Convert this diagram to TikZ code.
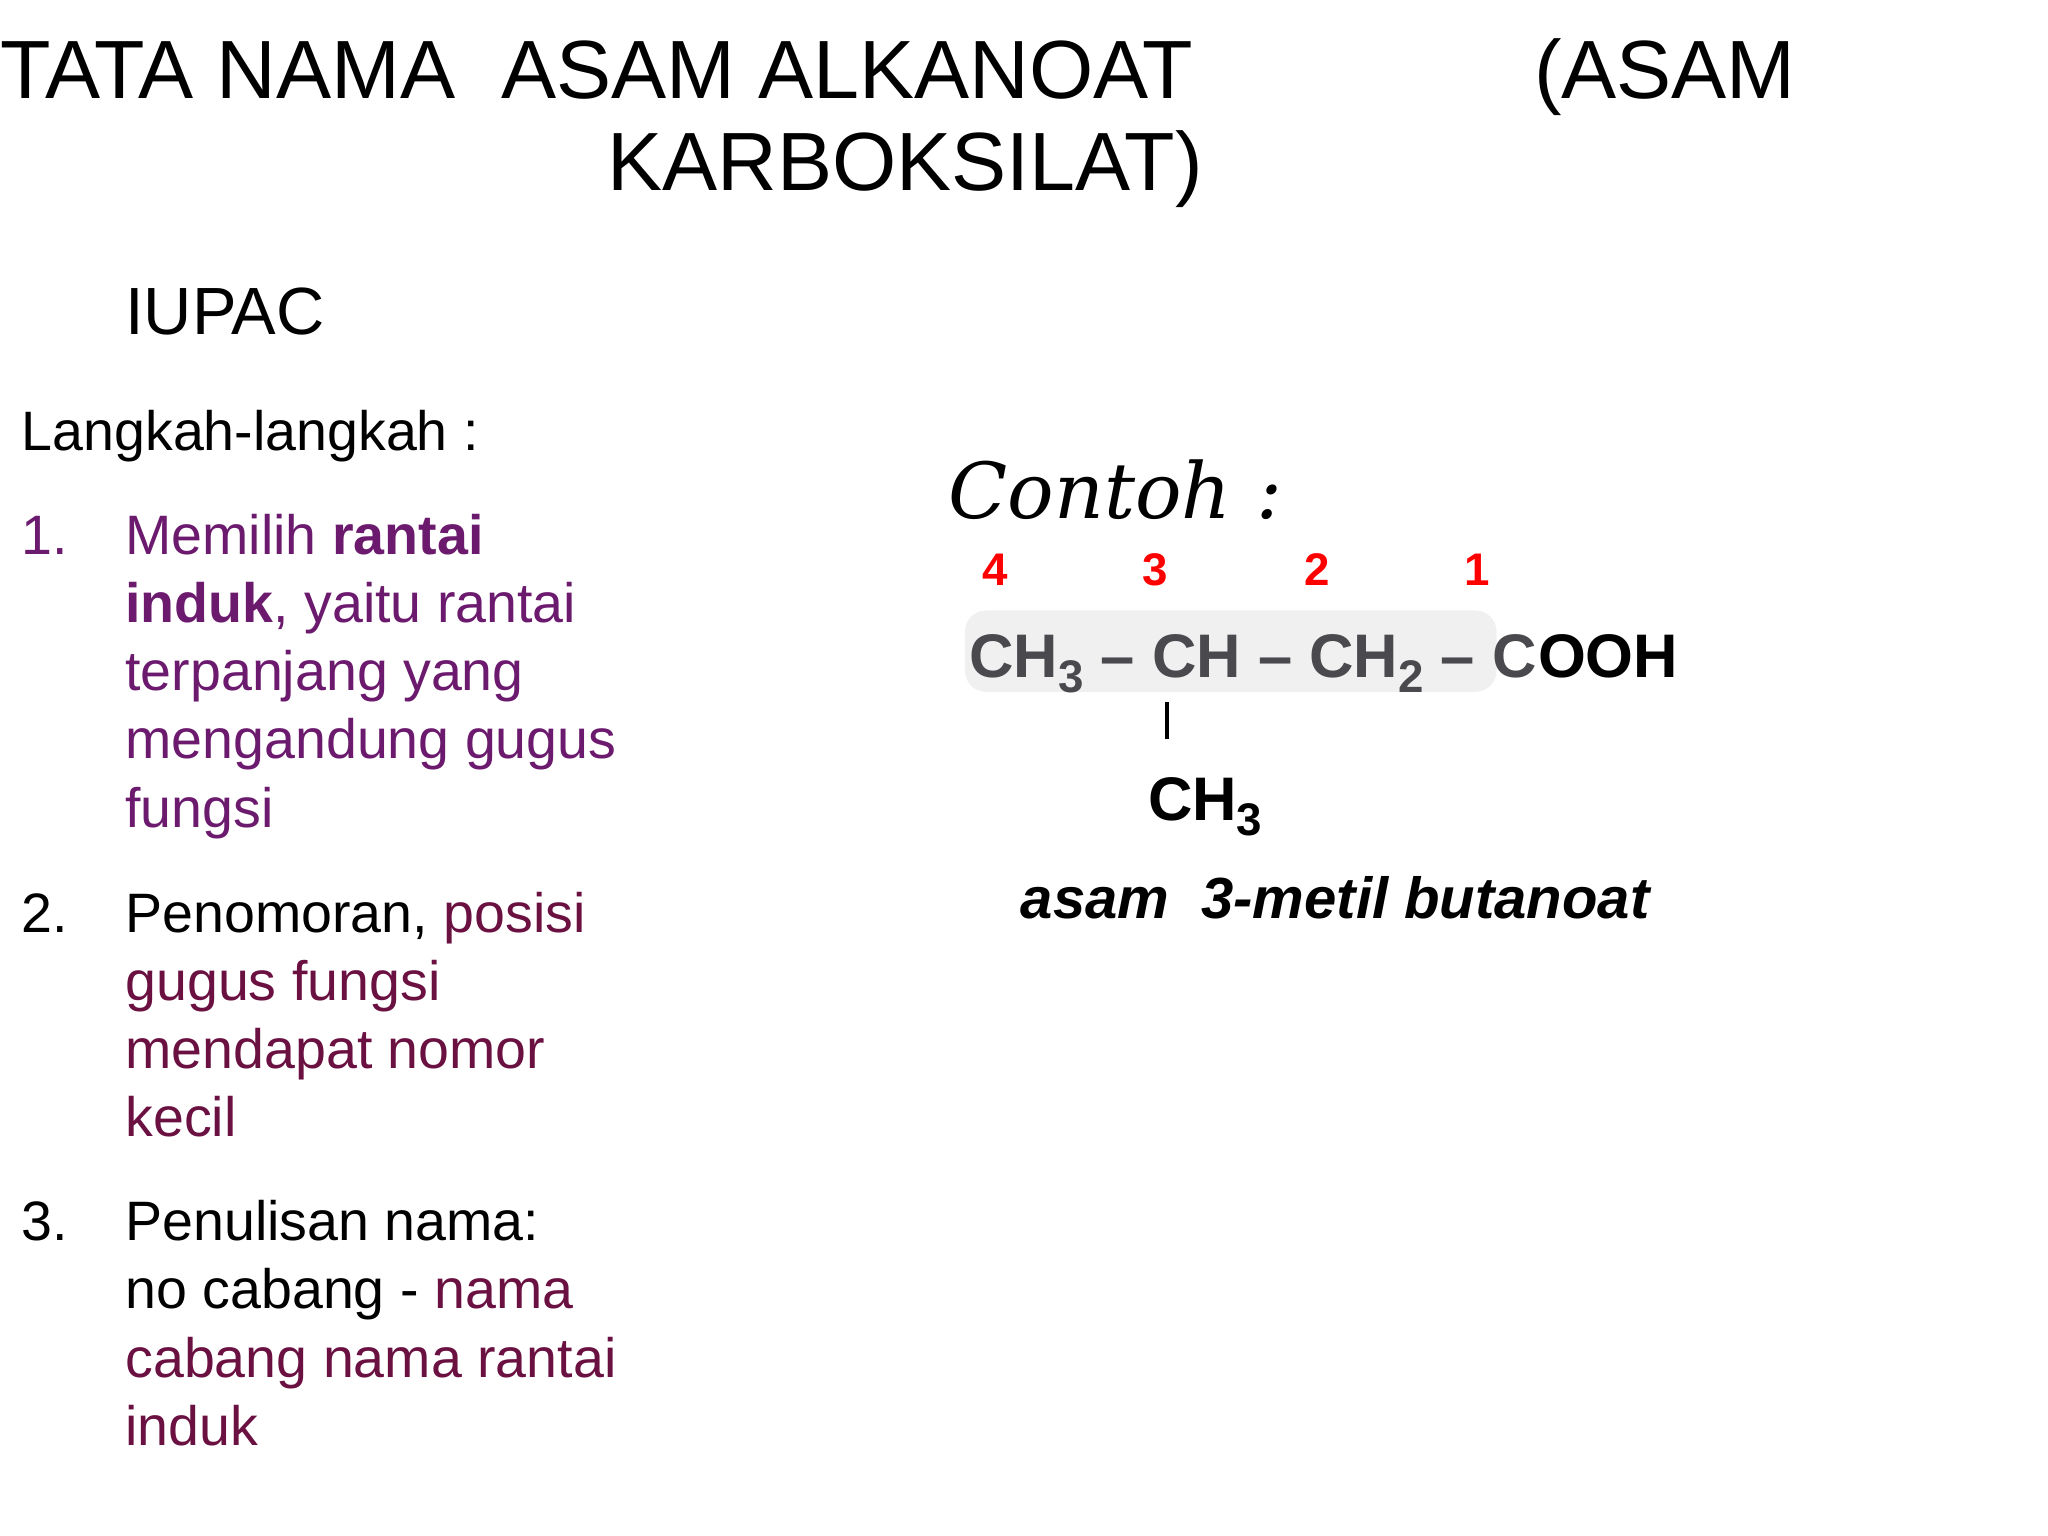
\documentclass[tikz,border=0pt]{standalone}
\usepackage{fontspec}
\setmainfont{Liberation Sans}
\newfontfamily\handfont{DejaVu Serif}
\usepackage{xcolor}
\definecolor{ungu}{HTML}{6B1A6E}
\definecolor{marun}{HTML}{6A1142}
\definecolor{abu}{HTML}{4A4A4E}
\newcommand{\sbs}[1]{\raisebox{-0.45ex}{\fontsize{13}{13}\selectfont #1}}

\begin{document}
\begin{tikzpicture}[x=0.01313cm, y=-0.01313cm,
    ttl/.style={anchor=base west, inner sep=0pt, font=\fontsize{23.5}{26}\selectfont},
    txt/.style={anchor=base west, inner sep=0pt, font=\fontsize{15.8}{18}\selectfont},
    chem/.style={anchor=base west, inner sep=0pt, font=\fontsize{17.5}{20}\selectfont\bfseries},
    nomor/.style={anchor=base, inner sep=0pt, text=red, font=\fontsize{13}{15}\selectfont\bfseries}]
    \useasboundingbox (0,0) rectangle (1560,1170);
    % judul
    \node[ttl] (t1) at (0,75) {TATA NAMA\ \ ASAM ALKANOAT};
    \node[ttl] (t2) at (1168,75) {(ASAM};
    \node[ttl] (t3) at (462,145) {KARBOKSILAT)};
    \node[ttl, font=\fontsize{19}{22}\selectfont] (iupac) at (95,255) {IUPAC};
    % langkah-langkah
    \node[txt] (lk) at (16,343) {Langkah-langkah :};
    \node[txt, text=ungu] (n1) at (16,422) {1.};
    \node[txt, text=ungu] (a1) at (95,422) {Memilih \textbf{rantai}};
    \node[txt, text=ungu] (a2) at (95,474) {\textbf{induk}, yaitu rantai};
    \node[txt, text=ungu] (a3) at (95,526) {terpanjang yang};
    \node[txt, text=ungu] (a4) at (95,578) {mengandung gugus};
    \node[txt, text=ungu] (a5) at (95,630) {fungsi};
    \node[txt] (n2) at (16,710) {2.};
    \node[txt] (b1) at (95,710) {Penomoran, \textcolor{marun}{posisi}};
    \node[txt, text=marun] (b2) at (95,762) {gugus fungsi};
    \node[txt, text=marun] (b3) at (95,814) {mendapat nomor};
    \node[txt, text=marun] (b4) at (95,866) {kecil};
    \node[txt] (n3) at (16,945) {3.};
    \node[txt] (c1) at (95,945) {Penulisan nama:};
    \node[txt] (c2) at (95,997) {no cabang - \textcolor{marun}{nama}};
    \node[txt, text=marun] (c3) at (95,1049) {cabang nama rantai};
    \node[txt, text=marun] (c4) at (95,1101) {induk};
    % contoh
    \node[anchor=base west, inner sep=0pt, font=\fontsize{22}{24}\selectfont\handfont\itshape] (contoh) at (722,395) {Contoh :};
    \fill[gray!12, rounded corners=6] (735,465) rectangle (1140,527);
    \node[chem, text=abu] (rantai) at (738,516) {CH\sbs{3} -- CH -- CH\sbs{2} -- C};
    \node[chem] (cooh) at (rantai.base east) [anchor=base west] {OOH};
    \foreach \x/\n in {758/4, 880/3, 1003/2, 1125/1}
        \node[nomor] (c\n) at (\x,446) {\n};
    \coordinate (ikatA) at (889,535);
    \coordinate (ikatB) at (889,563);
    \draw[line width=1.2pt] (ikatA) -- (ikatB);
    \node[chem] (cabang) at (874,625) {CH\sbs{3}};
    \node[chem, font=\fontsize{16.5}{19}\selectfont\bfseries\itshape] (nama) at (777,700) {asam\ \ 3-metil butanoat};
\end{tikzpicture}
\end{document}
